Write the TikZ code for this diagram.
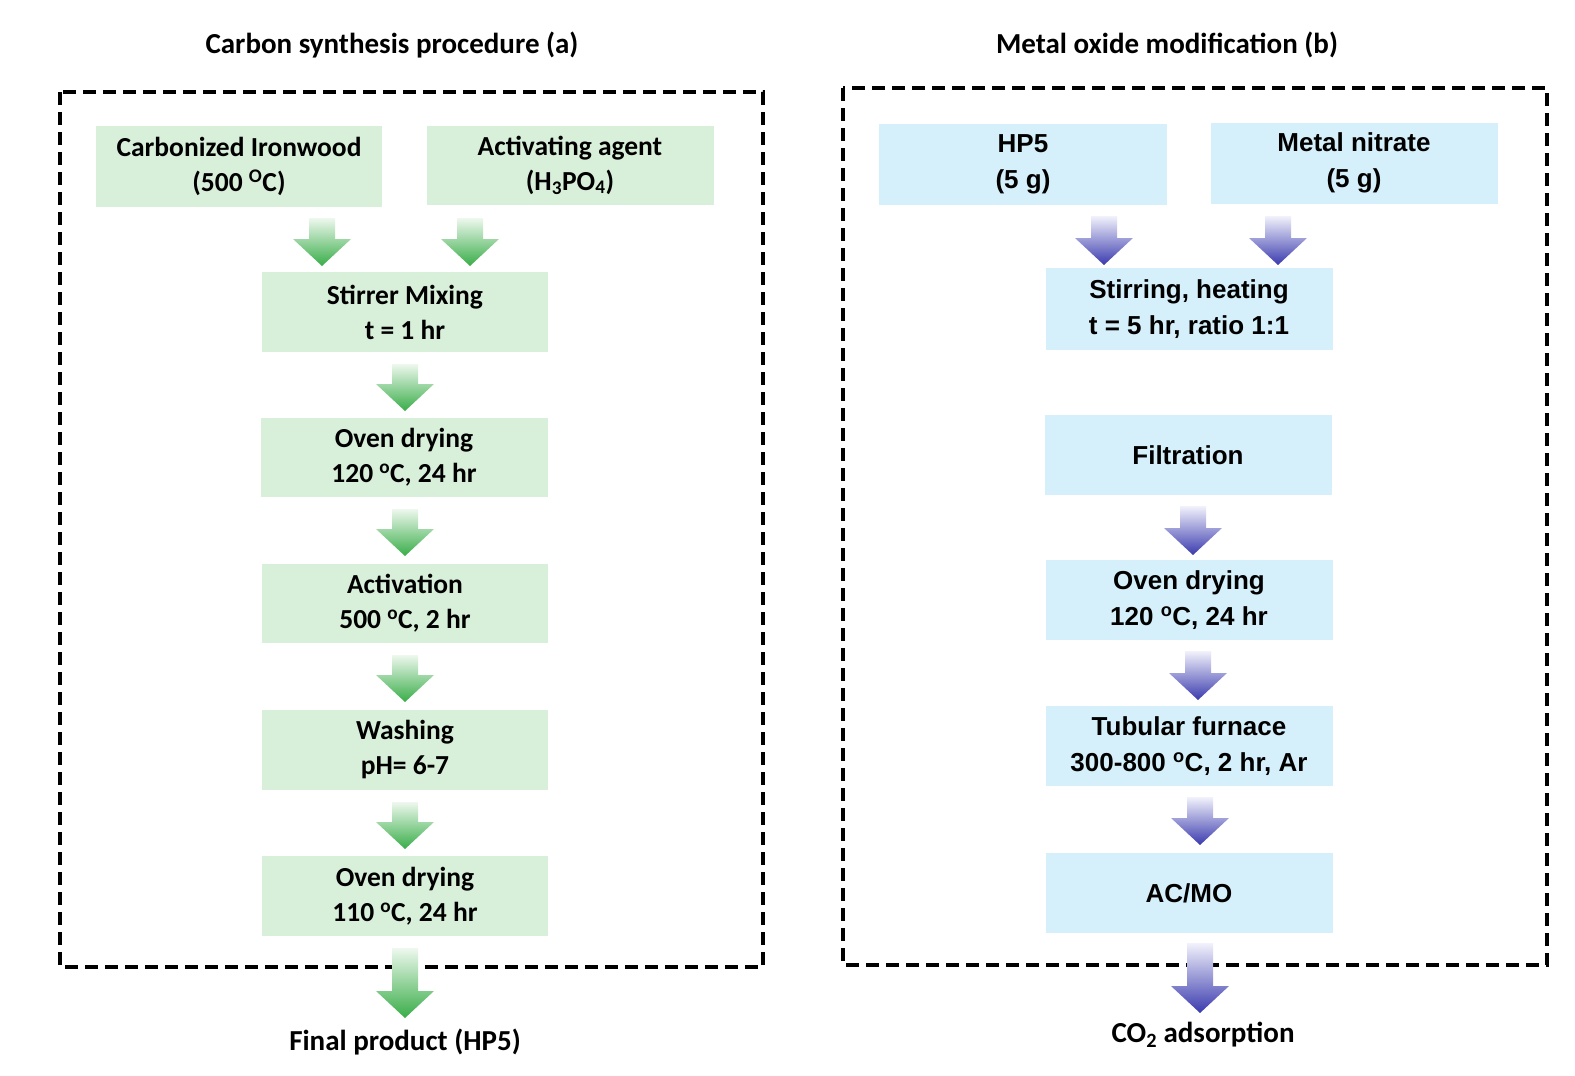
\documentclass[tikz,border=0pt]{standalone}
\usepackage{fontspec}
\setmainfont{Carlito}
\newfontfamily\arialf{Liberation Sans}
\definecolor{gfill}{HTML}{D8EFDA}
\definecolor{bfill}{HTML}{D5F0FA}
\definecolor{gdark}{HTML}{38AD48}
\definecolor{glight}{HTML}{EEF8EE}
\definecolor{bdark}{HTML}{3A3AAE}
\definecolor{blight}{HTML}{F2F2FC}
\begin{document}
\begin{tikzpicture}[x=1pt,y=-1pt,
  gbox/.style={fill=gfill, inner sep=0pt, font=\fontsize{27.5}{35}\selectfont\bfseries, align=center},
  bbox/.style={fill=bfill, inner sep=0pt, font=\arialf\fontsize{26}{36}\selectfont\bfseries, align=center},
  title/.style={font=\fontsize{29}{32}\selectfont\bfseries},
  frame/.style={draw, line width=3.8pt, dash pattern=on 13pt off 7pt},
  pics/garrow/.style={code={
    \shade[top color=glight, bottom color=gdark, draw=none]
      (-13,0) -- (13,0) -- (13,#1-27) -- (29,#1-27) -- (0,#1) -- (-29,#1-27) -- (-13,#1-27) -- cycle;
  }},
  pics/barrow/.style={code={
    \shade[top color=blight, bottom color=bdark, draw=none]
      (-13,0) -- (13,0) -- (13,#1-27) -- (29,#1-27) -- (0,#1) -- (-29,#1-27) -- (-13,#1-27) -- cycle;
  }},
]
\useasboundingbox (0,0) rectangle (1575,1076);

\node[title] (ta) at (392,45) {Carbon synthesis procedure (a)};
\node[title] (tb) at (1167,45) {Metal oxide modification (b)};
\draw[frame] (60,92) rectangle (763,967);
\draw[frame] (843,88) rectangle (1547,965);

% left column
\node[gbox, minimum width=286, minimum height=81] (c1) at (239,166) {Carbonized Ironwood\\(500 \textsuperscript{O}C)};
\node[gbox, minimum width=287, minimum height=79] (c2) at (570,165) {Activating agent\\(H\textsubscript{3}PO\textsubscript{4})};
\node[gbox, minimum width=286, minimum height=80] (c3) at (405,312) {Stirrer Mixing\\t = 1 hr};
\node[gbox, minimum width=287, minimum height=79] (c4) at (404,457) {Oven drying\\120 \textsuperscript{o}C, 24 hr};
\node[gbox, minimum width=286, minimum height=79] (c5) at (405,603) {Activation\\500 \textsuperscript{o}C, 2 hr};
\node[gbox, minimum width=286, minimum height=80] (c6) at (405,750) {Washing\\pH= 6-7};
\node[gbox, minimum width=286, minimum height=80] (c7) at (405,896) {Oven drying\\110 \textsuperscript{o}C, 24 hr};
\node[title] (c8) at (405,1042) {Final product (HP5)};

\pic at (322,218) {garrow=48};
\pic at (470,218) {garrow=48};
\pic at (405,364) {garrow=47};
\pic at (405,509) {garrow=47};
\pic at (405,655) {garrow=47};
\pic at (405,802) {garrow=47};
\pic at (405,948) {garrow=70};

% right column
\node[bbox, minimum width=288, minimum height=81] (m1) at (1023,164) {HP5\\(5 g)};
\node[bbox, minimum width=287, minimum height=81] (m2) at (1354,163) {Metal nitrate\\(5 g)};
\node[bbox, minimum width=287, minimum height=82] (m3) at (1189,309) {Stirring, heating\\t = 5 hr, ratio 1:1};
\node[bbox, minimum width=287, minimum height=80] (m4) at (1188,455) {Filtration};
\node[bbox, minimum width=287, minimum height=80] (m5) at (1189,600) {Oven drying\\120 \textsuperscript{o}C, 24 hr};
\node[bbox, minimum width=287, minimum height=80] (m6) at (1189,746) {Tubular furnace\\300-800 \textsuperscript{o}C, 2 hr, Ar};
\node[bbox, minimum width=287, minimum height=80] (m7) at (1189,893) {AC/MO};
\node[title] (m8) at (1203,1035) {CO\textsubscript{2} adsorption};

\pic at (1104,216) {barrow=49};
\pic at (1278,216) {barrow=49};
\pic at (1193,506) {barrow=49};
\pic at (1198,651) {barrow=49};
\pic at (1200,797) {barrow=48};
\pic at (1200,943) {barrow=70};
\end{tikzpicture}
\end{document}
